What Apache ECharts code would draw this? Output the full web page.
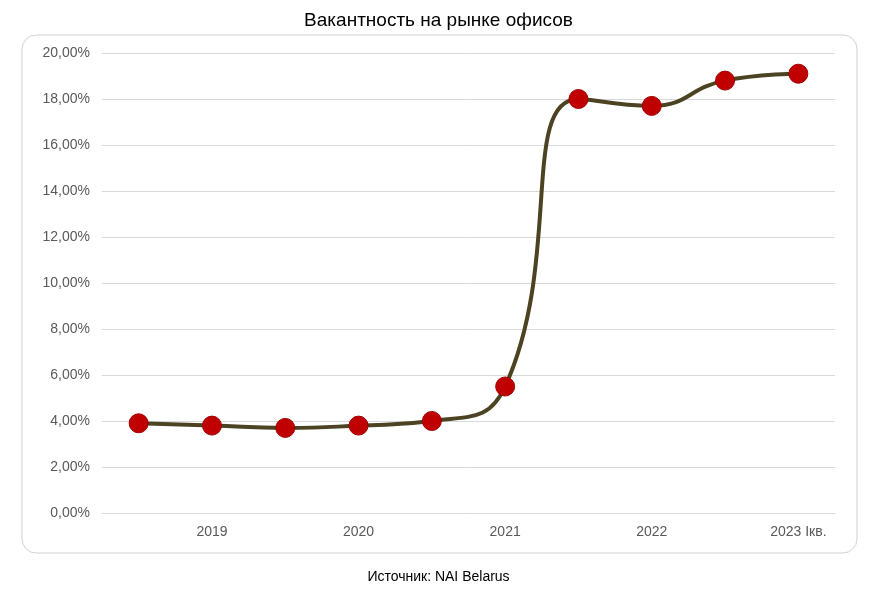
<!DOCTYPE html>
<html><head><meta charset="utf-8">
<script src="https://cdn.jsdelivr.net/npm/echarts@6/dist/echarts.min.js"></script>
<style>html,body{margin:0;padding:0;background:#fff}#c{width:877px;height:599px}</style>
</head><body><div id="c"></div>
<script>
const categories = ['', '2019', '', '2020', '', '2021', '', '2022', '', '2023 Iкв.'];
const vacancy = [3.9, 3.8, 3.7, 3.8, 4.0, 5.5, 18.0, 17.7, 18.8, 19.1];
const chart = echarts.init(document.getElementById('c'));
chart.setOption({
  animation: false,
  title: { text: 'Вакантность на рынке офисов', left: 'center', top: 6,
    textStyle: { fontFamily: 'Liberation Sans', fontSize: 19, fontWeight: 'normal', color: '#000' } },
  graphic: [
    { type: 'rect', shape: { x: 22, y: 35, width: 835, height: 518, r: 14 },
      style: { fill: 'none', stroke: '#d0d0d0', lineWidth: 1 }, z: -1 },
    { type: 'text', left: 'center', top: 570,
      style: { text: 'Источник: NAI Belarus', font: '14px "Liberation Sans"', fill: '#000' } }
  ],
  grid: { left: 102, right: 42, top: 53, bottom: 86 },
  xAxis: { type: 'category', data: categories, boundaryGap: true,
    axisLine: { lineStyle: { color: '#d9d9d9' } }, axisTick: { show: false },
    axisLabel: { interval: 0, color: '#595959', fontSize: 14, fontFamily: 'Liberation Sans', margin: 12 } },
  yAxis: { type: 'value', min: 0, max: 20, interval: 2,
    axisLabel: { formatter: v => v.toFixed(2).replace('.', ',') + '%', color: '#595959', fontSize: 14, fontFamily: 'Liberation Sans', margin: 12 },
    splitLine: { lineStyle: { color: '#d9d9d9' } } },
  series: [{ type: 'line', data: vacancy, smooth: 0.5,
    lineStyle: { color: '#4b4322', width: 4 },
    symbol: 'circle', symbolSize: 19,
    itemStyle: { color: '#c00000', borderColor: '#a00000', borderWidth: 1 } }]
});
</script></body></html>
